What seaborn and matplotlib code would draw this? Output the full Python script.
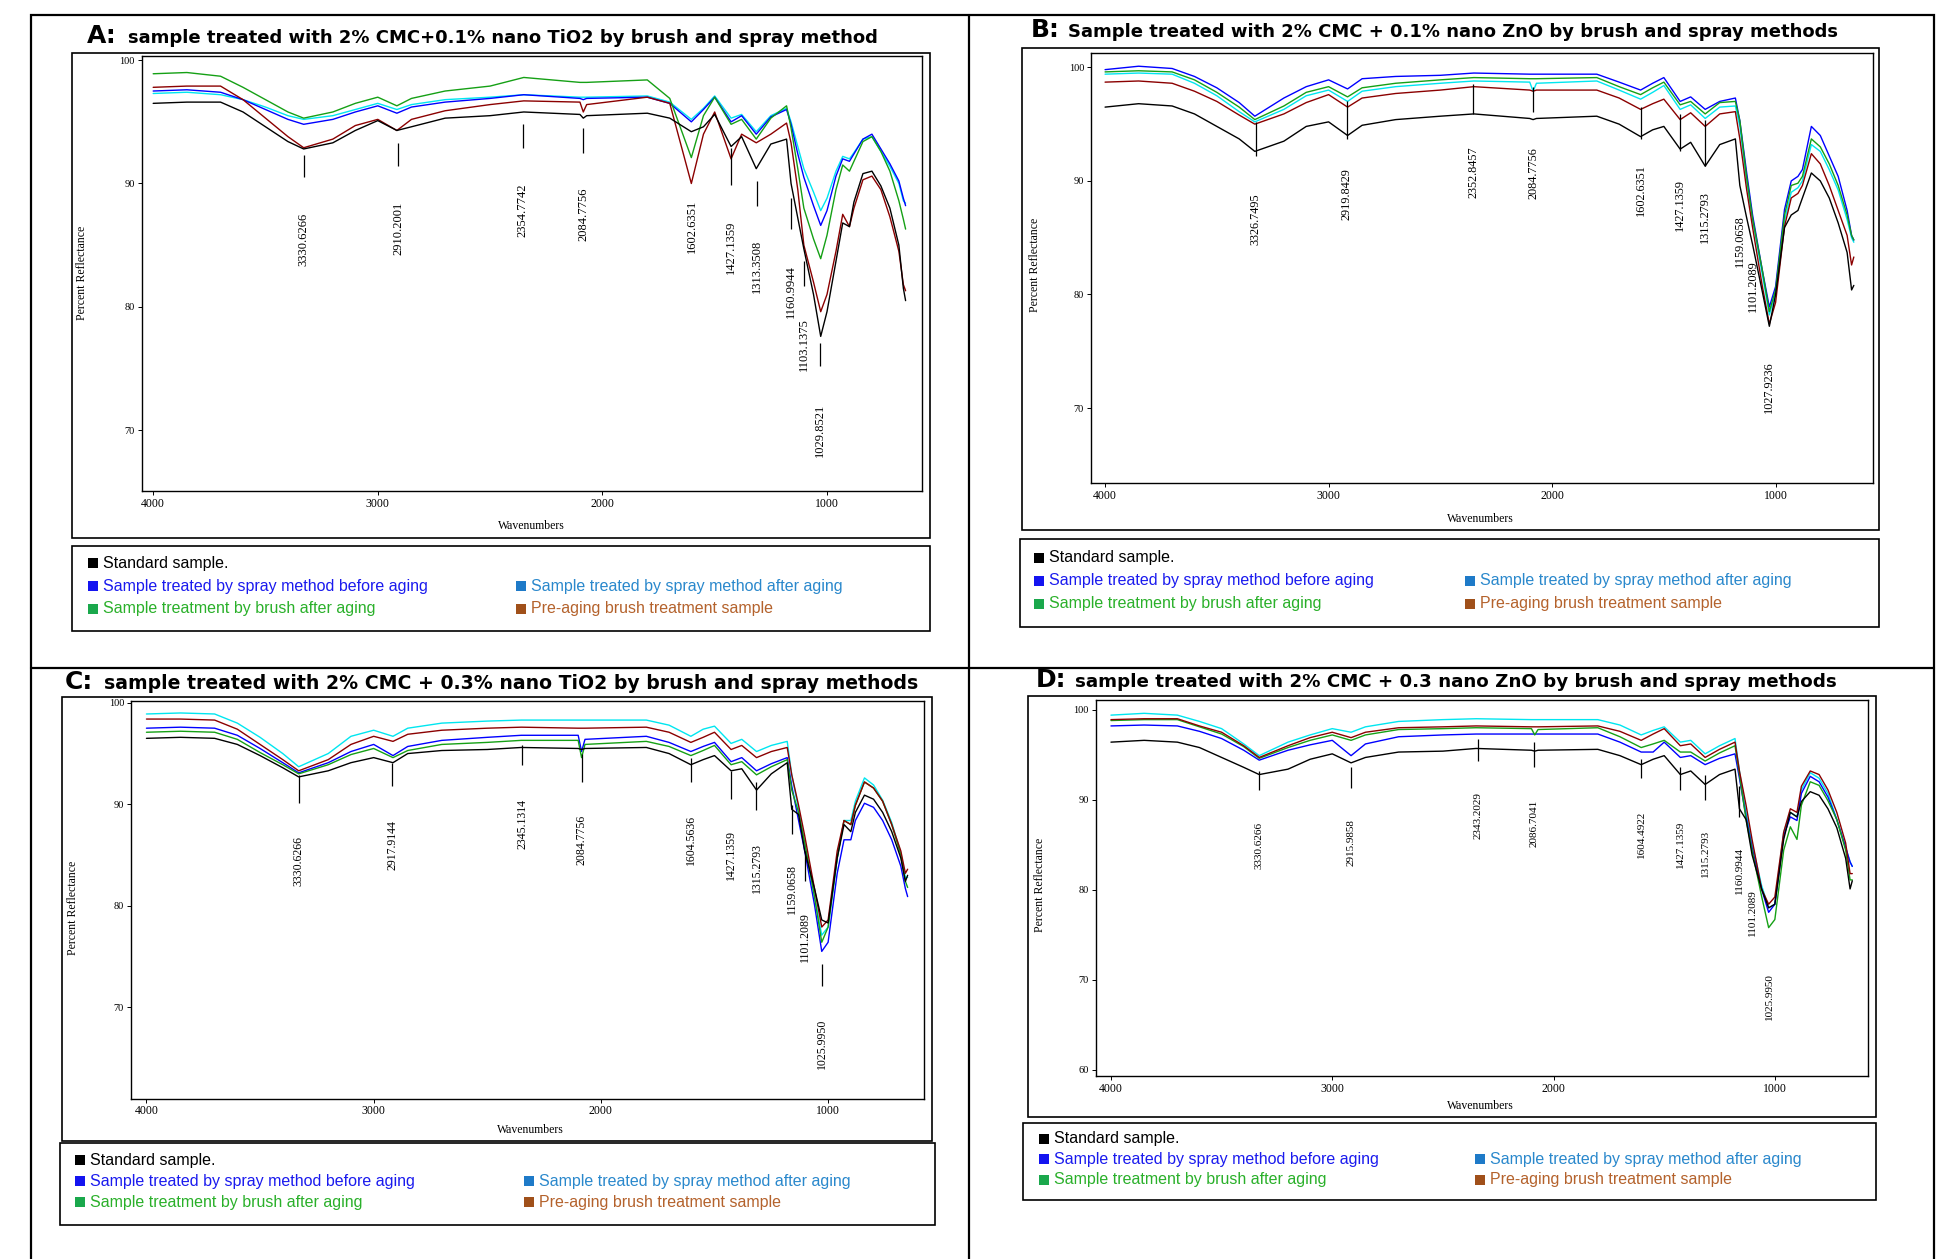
import matplotlib
matplotlib.use("Agg")
import pandas as pd
import matplotlib.pyplot as plt
from matplotlib.patches import Rectangle
from matplotlib.lines import Line2D
import seaborn as sns

W, H = 1938, 1259

# wavenumber grid (cm-1) used for every spectrum
WN = [4000, 3850, 3700, 3600, 3500, 3400, 3330, 3200, 3100, 3000,
      2915, 2850, 2700, 2500, 2350, 2100, 2085, 2070, 1800, 1700,
      1604, 1550, 1500, 1427, 1380, 1315, 1250, 1180, 1160, 1130,
      1103, 1060, 1028, 1000, 960, 930, 900, 880, 840, 800,
      760, 720, 680, 660, 650]

SERIES = ["Standard sample.",
          "Sample treated by spray method before aging",
          "Sample treated by spray method after aging",
          "Sample treatment by brush after aging",
          "Pre-aging brush treatment sample"]

# ---- panel A: 2% CMC + 0.1% nano TiO2
a_std = [96.5, 96.6, 96.6, 95.8, 94.6, 93.4, 92.8, 93.3, 94.3, 95.1,
         94.3, 94.6, 95.3, 95.5, 95.8, 95.6, 95.3, 95.5, 95.7, 95.3,
         94.2, 94.6, 95.6, 93.0, 93.8, 91.2, 93.2, 93.6, 90.0, 87.2,
         84.7, 81.0, 77.6, 79.6, 83.7, 86.8, 86.5, 88.5, 90.8, 91.0,
         89.8, 88.0, 85.0, 81.5, 80.5]
a_spray_before = [97.5, 97.6, 97.4, 96.8, 96.0, 95.2, 94.8, 95.2, 95.8, 96.3,
                  95.7, 96.2, 96.6, 96.9, 97.2, 96.9, 96.8, 96.9, 97.0, 96.5,
                  95.0, 96.0, 97.0, 95.0, 95.5, 94.0, 95.4, 96.0, 94.8, 92.4,
                  90.5, 88.2, 86.6, 87.8, 90.6, 92.0, 91.8, 92.4, 93.6, 94.0,
                  92.8, 91.6, 90.2, 88.8, 88.2]
a_spray_after = [97.3, 97.4, 97.2, 96.8, 96.2, 95.5, 95.2, 95.5, 96.0, 96.5,
                 96.0, 96.4, 96.8, 97.0, 97.2, 97.0, 97.0, 97.0, 97.1, 96.6,
                 95.2, 96.1, 97.1, 95.3, 95.6, 94.2, 95.5, 96.1, 95.0, 93.0,
                 91.2, 89.3, 87.8, 88.8, 91.0, 92.2, 92.0, 92.5, 93.6, 93.8,
                 92.6, 91.4, 90.0, 88.6, 88.4]
a_brush_after = [98.9, 99.0, 98.7, 97.8, 96.8, 95.8, 95.3, 95.8, 96.5, 97.0,
                 96.3, 96.9, 97.5, 97.9, 98.6, 98.2, 98.2, 98.2, 98.4, 96.9,
                 92.1, 95.5, 97.0, 94.8, 95.2, 93.6, 95.3, 96.3, 94.5, 91.2,
                 88.0, 85.5, 83.9, 85.8, 89.5, 91.5, 91.0, 91.8, 93.4, 93.8,
                 92.6, 91.0, 88.6, 87.1, 86.3]
a_brush_before = [97.8, 97.9, 97.9, 96.8, 95.3, 93.8, 92.9, 93.6, 94.7, 95.2,
                  94.3, 95.2, 95.9, 96.4, 96.7, 96.6, 95.8, 96.4, 97.0, 96.5,
                  90.0, 94.0, 95.8, 92.0, 94.0, 93.3, 94.0, 94.9, 93.3, 89.5,
                  85.0, 82.0, 79.6, 81.0, 84.5, 87.5, 86.5, 88.0, 90.3, 90.6,
                  89.5, 87.3, 84.5, 81.8, 81.3]

# ---- panel B: 2% CMC + 0.1% nano ZnO
b_std = [96.5, 96.8, 96.6, 95.9, 94.8, 93.7, 92.6, 93.5, 94.8, 95.2,
         94.0, 94.9, 95.4, 95.7, 95.9, 95.5, 95.4, 95.5, 95.7, 95.0,
         93.9, 94.5, 94.8, 92.8, 93.4, 91.3, 93.2, 93.7, 89.6, 86.8,
         84.4, 80.3, 77.2, 80.0, 85.9, 87.0, 87.4, 88.5, 90.7, 90.0,
         88.5, 86.3, 83.7, 80.4, 80.8]
b_spray_before = [99.8, 100.1, 99.9, 99.2, 98.2, 96.9, 95.7, 97.3, 98.3, 98.9,
                  98.1, 99.0, 99.2, 99.3, 99.5, 99.4, 99.4, 99.4, 99.4, 98.7,
                  98.0, 98.6, 99.1, 97.0, 97.4, 96.3, 97.0, 97.3, 95.3, 90.8,
                  87.0, 82.2, 78.9, 80.7, 87.5, 90.0, 90.4, 91.0, 94.8, 94.0,
                  92.2, 90.4, 87.4, 85.2, 84.8]
b_spray_after = [99.4, 99.5, 99.4, 98.6, 97.5, 96.1, 95.2, 96.3, 97.5, 98.0,
                 97.0, 97.9, 98.3, 98.6, 98.8, 98.7, 97.9, 98.6, 98.8, 98.0,
                 97.2, 97.8, 98.4, 96.3, 96.7, 95.5, 96.5, 96.6, 94.8, 90.0,
                 86.5, 81.8, 78.2, 80.2, 86.5, 89.0, 89.4, 90.0, 93.2, 92.6,
                 91.0, 89.2, 86.6, 85.0, 84.6]
b_brush_after = [99.6, 99.7, 99.6, 98.9, 97.8, 96.5, 95.4, 96.6, 97.8, 98.3,
                 97.4, 98.2, 98.6, 98.9, 99.1, 99.0, 99.0, 99.0, 99.1, 98.3,
                 97.6, 98.2, 98.7, 96.7, 97.0, 95.9, 96.9, 97.0, 95.3, 90.4,
                 86.7, 82.2, 78.5, 80.4, 87.0, 89.6, 89.8, 90.4, 93.7, 93.0,
                 91.5, 89.6, 87.0, 85.2, 84.8]
b_brush_before = [98.7, 98.8, 98.6, 97.9, 97.0, 95.8, 95.0, 95.9, 96.9, 97.6,
                  96.5, 97.3, 97.7, 98.0, 98.3, 98.0, 97.9, 98.0, 98.0, 97.3,
                  96.3, 96.8, 97.2, 95.4, 96.0, 94.8, 95.9, 96.1, 93.7, 89.3,
                  85.9, 80.8, 77.4, 79.3, 86.0, 88.5, 88.9, 89.6, 92.4, 91.5,
                  89.6, 87.4, 85.2, 82.6, 83.3]

# ---- panel C: 2% CMC + 0.3% nano TiO2
c_std = [96.5, 96.6, 96.5, 95.9, 94.8, 93.6, 92.7, 93.3, 94.1, 94.6,
         94.1, 95.0, 95.3, 95.4, 95.6, 95.5, 95.4, 95.5, 95.6, 95.0,
         93.9, 94.4, 94.8, 93.3, 93.5, 91.4, 93.0, 94.1, 89.5, 89.0,
         85.4, 81.7, 78.6, 78.3, 84.7, 88.0, 87.3, 89.2, 90.9, 90.5,
         89.2, 87.3, 84.7, 82.4, 83.0]
c_spray_before = [97.5, 97.6, 97.5, 96.8, 95.5, 94.1, 93.1, 94.1, 95.2, 95.9,
                  94.8, 95.7, 96.3, 96.6, 96.8, 96.8, 95.2, 96.4, 96.7, 96.1,
                  95.2, 95.7, 96.1, 94.2, 94.6, 93.3, 94.0, 94.6, 91.8, 88.4,
                  85.4, 80.1, 75.5, 76.4, 83.2, 86.5, 86.5, 88.4, 90.1, 89.7,
                  88.4, 86.5, 83.9, 81.7, 80.9]
c_spray_after = [98.9, 99.0, 98.9, 98.0, 96.6, 95.0, 93.7, 95.0, 96.7, 97.3,
                 96.7, 97.5, 98.0, 98.2, 98.3, 98.3, 98.3, 98.3, 98.3, 97.8,
                 96.7, 97.4, 97.7, 96.0, 96.4, 95.2, 95.8, 96.2, 92.9, 89.5,
                 86.2, 80.9, 77.1, 77.9, 84.7, 88.4, 88.4, 90.3, 92.6, 91.9,
                 90.4, 88.2, 85.2, 82.8, 82.8]
c_brush_after = [97.1, 97.2, 97.1, 96.4, 95.1, 93.9, 93.0, 93.9, 94.9, 95.5,
                 94.6, 95.3, 95.9, 96.1, 96.3, 96.3, 94.6, 95.9, 96.2, 95.7,
                 94.8, 95.3, 95.8, 93.9, 94.2, 92.9, 93.7, 94.4, 91.4, 89.2,
                 86.2, 80.9, 76.4, 77.9, 84.7, 88.4, 88.0, 89.9, 92.2, 91.6,
                 90.3, 88.0, 85.0, 82.4, 81.8]
c_brush_before = [98.4, 98.4, 98.3, 97.4, 95.9, 94.4, 93.3, 94.4, 95.9, 96.7,
                  96.2, 96.9, 97.3, 97.5, 97.6, 97.5, 97.5, 97.5, 97.6, 97.1,
                  96.1, 96.6, 97.1, 95.4, 95.8, 94.6, 95.2, 95.6, 92.9, 89.9,
                  86.9, 81.7, 77.9, 78.6, 85.4, 88.4, 88.0, 89.9, 92.2, 91.6,
                  90.3, 88.0, 85.4, 83.2, 83.6]

# ---- panel D: 2% CMC + 0.3 nano ZnO
d_std = [96.4, 96.6, 96.4, 95.8, 94.7, 93.6, 92.8, 93.4, 94.5, 95.1,
         94.1, 94.7, 95.3, 95.4, 95.7, 95.5, 95.4, 95.5, 95.6, 94.9,
         93.9, 94.5, 94.9, 92.8, 93.2, 91.7, 92.8, 93.4, 89.0, 87.8,
         83.9, 80.1, 78.0, 78.4, 85.6, 88.6, 88.1, 89.8, 90.9, 90.5,
         89.0, 86.9, 83.5, 80.1, 81.0]
d_spray_before = [98.2, 98.3, 98.2, 97.6, 96.8, 95.5, 94.4, 95.5, 96.1, 96.6,
                  94.9, 96.2, 97.0, 97.2, 97.3, 97.3, 97.3, 97.3, 97.3, 96.4,
                  95.3, 95.3, 96.4, 94.7, 94.9, 93.9, 94.6, 95.1, 92.4, 88.1,
                  84.7, 80.1, 77.5, 78.4, 86.0, 88.1, 87.7, 90.7, 92.6, 92.0,
                  90.3, 87.8, 84.7, 83.1, 82.6]
d_spray_after = [99.4, 99.6, 99.4, 98.7, 97.9, 96.2, 94.9, 96.4, 97.2, 97.9,
                 97.5, 98.1, 98.7, 98.9, 99.0, 98.9, 98.9, 98.9, 98.9, 98.3,
                 97.2, 97.7, 98.1, 96.4, 96.6, 95.1, 96.0, 96.8, 93.2, 88.6,
                 85.2, 80.5, 78.0, 78.4, 86.4, 88.6, 88.1, 91.1, 93.0, 92.4,
                 90.7, 87.8, 84.7, 83.1, 82.6]
d_brush_after = [98.8, 98.9, 98.9, 98.1, 97.3, 95.9, 94.6, 95.8, 96.6, 97.2,
                 96.6, 97.2, 97.8, 97.9, 98.0, 97.9, 97.2, 97.8, 98.0, 97.0,
                 95.8, 96.2, 96.6, 95.3, 95.3, 94.3, 95.2, 96.0, 92.8, 87.8,
                 84.4, 79.3, 75.8, 76.7, 84.4, 87.0, 85.6, 89.4, 92.0, 91.6,
                 89.9, 87.8, 84.4, 81.1, 81.1]
d_brush_before = [98.9, 99.0, 99.0, 98.2, 97.5, 96.0, 94.7, 96.0, 96.9, 97.5,
                  96.9, 97.5, 98.0, 98.1, 98.2, 98.1, 98.1, 98.1, 98.2, 97.6,
                  96.6, 97.3, 97.9, 96.0, 96.2, 94.7, 95.6, 96.4, 93.2, 89.4,
                  85.6, 80.1, 78.4, 79.2, 86.4, 89.0, 88.6, 91.5, 93.2, 92.8,
                  91.1, 88.6, 85.2, 81.8, 81.8]

# peak labels: wavenumber, label text
a_peaks = [3330.6266, 2910.2001, 2354.7742, 2084.7756, 1602.6351,
           1427.1359, 1313.3508, 1160.9944, 1103.1375, 1029.8521]
b_peaks = [3326.7495, 2919.8429, 2352.8457, 2084.7756, 1602.6351,
           1427.1359, 1315.2793, 1159.0658, 1101.2089, 1027.9236]
c_peaks = [3330.6266, 2917.9144, 2345.1314, 2084.7756, 1604.5636,
           1427.1359, 1315.2793, 1159.0658, 1101.2089, 1025.9950]
d_peaks = [3330.6266, 2915.9858, 2343.2029, 2086.7041, 1604.4922,
           1427.1359, 1315.2793, 1160.9944, 1101.2089, 1025.9950]

titles = [
    ("A:", "sample treated with 2% CMC+0.1% nano TiO2 by brush and spray method"),
    ("B:", "Sample treated with 2% CMC + 0.1% nano ZnO by brush and spray methods"),
    ("C:", "sample treated with 2% CMC + 0.3% nano TiO2 by brush and spray methods"),
    ("D:", "sample treated with 2% CMC + 0.3 nano ZnO by brush and spray methods"),
]

LINE_COLORS = ["#000000", "#0000ff", "#00e6f0", "#15a015", "#8b0000"]
KEY_COLORS = ["#000000", "#1414f0", "#1e7ac8", "#1aa84c", "#a0501a"]
TEXT_COLORS = ["#000000", "#1a1aee", "#2a88cc", "#2ab02a", "#b4622c"]
DRAW_ORDER = [2, 1, 3, 4, 0]

# layout, in pixels of the 1938x1259 canvas
panels = [
    dict(data=[a_std, a_spray_before, a_spray_after, a_brush_after, a_brush_before],
         peaks=a_peaks,
         # line top, line bottom, label top (in % units)
         marks=[(92.3, 90.5, 87.6), (93.3, 91.4, 88.5), (94.8, 92.9, 90.0), (94.5, 92.5, 89.7),
                (None, None, 88.7), (92.9, 89.9, 87.0), (90.2, 88.2, 85.4), (88.8, 86.3, 83.4),
                (83.7, 81.7, 79.1), (77.1, 75.2, 72.1)],
         ax=(141.5, 56, 922, 491), xlim=(4052, 577), ylim=(65.06, 100.34),
         yticks=[70, 80, 90, 100], frame=(71.7, 52.6, 929.5, 538),
         legend=(71.7, 546, 929.5, 631), lx=(88.4, 516), ly=(563, 586, 609),
         title=(86.5, 128, 877.6, 43.4), ylab=(82, 273), xlab=(531.5, 532), lsize=9),
    dict(data=[b_std, b_spray_before, b_spray_after, b_brush_after, b_brush_before],
         peaks=b_peaks,
         marks=[(95.2, 92.2, 88.9), (97.0, 93.7, 91.1), (98.5, 95.9, 93.0), (98.3, 96.1, 93.0),
                (96.5, 93.7, 91.5), (95.9, 92.6, 90.2), (95.4, 91.3, 89.1), (None, None, 87.0),
                (None, None, 83.0), (None, None, 74.1)],
         ax=(1091, 52.6, 1872.6, 483), xlim=(4063, 566), ylim=(63.4, 101.3),
         yticks=[70, 80, 90, 100], frame=(1021.5, 48.4, 1878.7, 530),
         legend=(1019.7, 538.7, 1878.7, 627), lx=(1034, 1464.7), ly=(557.7, 580.8, 603.9),
         title=(1031, 1068, 1837, 37), ylab=(1035, 265), xlab=(1480, 525), lsize=8.8),
    dict(data=[c_std, c_spray_before, c_spray_after, c_brush_after, c_brush_before],
         peaks=c_peaks,
         marks=[(92.9, 90.1, 86.9), (94.1, 91.8, 88.4), (95.8, 93.9, 90.5), (95.0, 92.2, 89.0),
                (94.6, 92.2, 89.0), (93.3, 90.5, 87.5), (92.2, 89.4, 86.2), (89.9, 87.1, 84.1),
                (85.4, 82.4, 79.4), (74.3, 72.1, 68.9)],
         ax=(131, 701, 924, 1098.5), xlim=(4068, 578), ylim=(61.0, 100.18),
         yticks=[70, 80, 90, 100], frame=(61.8, 697, 932, 1140.5),
         legend=(60, 1143, 934.5, 1224.6), lx=(75.4, 524), ly=(1160.4, 1181.4, 1202.4),
         title=(65, 104, 911.6, 688.6), ylab=(73, 908), xlab=(530, 1136), lsize=8.5),
    dict(data=[d_std, d_spray_before, d_spray_after, d_brush_after, d_brush_before],
         peaks=d_peaks,
         marks=[(93.2, 91.1, 87.5), (93.6, 91.3, 87.9), (96.8, 94.3, 90.9), (96.4, 93.6, 90.0),
                (94.5, 92.4, 88.8), (93.6, 91.1, 87.7), (92.8, 90.0, 86.7), (91.5, 88.1, 84.7),
                (None, None, 80.1), (None, None, 70.8)],
         ax=(1095.7, 700, 1868, 1076.4), xlim=(4069, 579), ylim=(59.28, 101.08),
         yticks=[60, 70, 80, 90, 100], frame=(1027.7, 696.3, 1875.7, 1116.5),
         legend=(1023.4, 1123.3, 1875.7, 1199.7), lx=(1038.8, 1474.6), ly=(1138.6, 1159.2, 1179.5),
         title=(1035.7, 1075, 1837, 687), ylab=(1040, 885), xlab=(1480, 1112), lsize=8),
]

sns.set_theme(style="white")
plt.rcParams["font.family"] = ["DejaVu Sans"]
plt.rcParams["text.color"] = "black"
plt.rcParams["xtick.color"] = "black"
plt.rcParams["ytick.color"] = "black"
SERIF = ["Liberation Serif", "DejaVu Serif"]

fig = plt.figure(figsize=(W / 100, H / 100), dpi=100)
renderer = fig.canvas.get_renderer()


def fx(x):
    return x / W


def fy(y):
    return 1 - y / H


def box(x0, y0, x1, y1, lw=1.2):
    fig.add_artist(Rectangle((fx(x0), fy(y1)), (x1 - x0) / W, (y1 - y0) / H,
                             transform=fig.transFigure, fill=False, ec="black", lw=lw))


# panel grid borders
box(31, 15, 1934, 1262, lw=1.6)
fig.add_artist(Line2D([fx(969), fx(969)], [fy(15), 0], transform=fig.transFigure, color="black", lw=1.6))
fig.add_artist(Line2D([fx(31), fx(1934)], [fy(668), fy(668)], transform=fig.transFigure, color="black", lw=1.6))

for (letter, ttext), p in zip(titles, panels):
    x0, y0, x1, y1 = p["ax"]
    ax = fig.add_axes([fx(x0), fy(y1), (x1 - x0) / W, (y1 - y0) / H])

    rows = []
    for name, vals in zip(SERIES, p["data"]):
        for w, v in zip(WN, vals):
            rows.append({"wn": w, "val": v, "series": name})
    df = pd.DataFrame(rows)
    sns.lineplot(data=df, x="wn", y="val", hue="series",
                 hue_order=[SERIES[i] for i in DRAW_ORDER],
                 palette=[LINE_COLORS[i] for i in DRAW_ORDER],
                 estimator=None, sort=False, legend=False, lw=1.0, ax=ax)

    ax.set_xlim(*p["xlim"])
    ax.set_ylim(*p["ylim"])
    ax.set_xticks([4000, 3000, 2000, 1000])
    ax.set_yticks(p["yticks"])
    ax.set_xticklabels(["4000", "3000", "2000", "1000"], family=SERIF, fontsize=8.5)
    ax.set_yticklabels([str(t) for t in p["yticks"]], family=SERIF, fontsize=7.5)
    ax.tick_params(bottom=True, left=True, direction="out", length=3, width=0.7, pad=2)
    ax.set_xlabel("")
    ax.set_ylabel("")
    for s in ax.spines.values():
        s.set_color("black")
        s.set_linewidth(1.0)

    # peak markers and labels
    for wn, (hi, lo, top) in zip(p["peaks"], p["marks"]):
        if hi is not None:
            ax.vlines(wn, lo, hi, color="black", lw=0.9)
        ax.text(wn, top, f"{wn:.4f}", rotation=90, ha="center", va="top",
                family=SERIF, fontsize=p["lsize"])

    # outer frame round the spectrum, axis titles
    box(*p["frame"], lw=1.2)
    fig.text(fx(p["ylab"][0]), fy(p["ylab"][1]), "Percent Reflectance", rotation=90,
             ha="center", va="center", family=SERIF, fontsize=8.5)
    fig.text(fx(p["xlab"][0]), fy(p["xlab"][1]), "Wavenumbers", ha="center", va="bottom",
             family=SERIF, fontsize=8.5)

    # panel title
    lx0, tx0, tx1, base = p["title"]
    fig.text(fx(lx0), fy(base), letter, ha="left", va="baseline",
             fontsize=18, fontweight="heavy")
    t = fig.text(fx(tx0), fy(base), ttext, ha="left", va="baseline",
                 fontsize=12, fontweight="bold")
    wdt = t.get_window_extent(renderer=renderer).width
    t.set_fontsize(12 * (tx1 - tx0) / wdt)

    # legend box
    box(*p["legend"], lw=1.2)
    lx = p["lx"]
    ly = p["ly"]
    slots = [(lx[0], ly[0]), (lx[0], ly[1]), (lx[1], ly[1]), (lx[0], ly[2]), (lx[1], ly[2])]
    for i, (sx, sy) in enumerate(slots):
        fig.add_artist(Rectangle((fx(sx), fy(sy + 5)), 10 / W, 10 / H,
                                 transform=fig.transFigure, color=KEY_COLORS[i], lw=0))
        fig.text(fx(sx + 15), fy(sy), SERIES[i], ha="left", va="center",
                 color=TEXT_COLORS[i], fontsize=11.5, family=["Liberation Sans", "DejaVu Sans"])

fig.savefig("out.png", dpi=100, facecolor="white")
